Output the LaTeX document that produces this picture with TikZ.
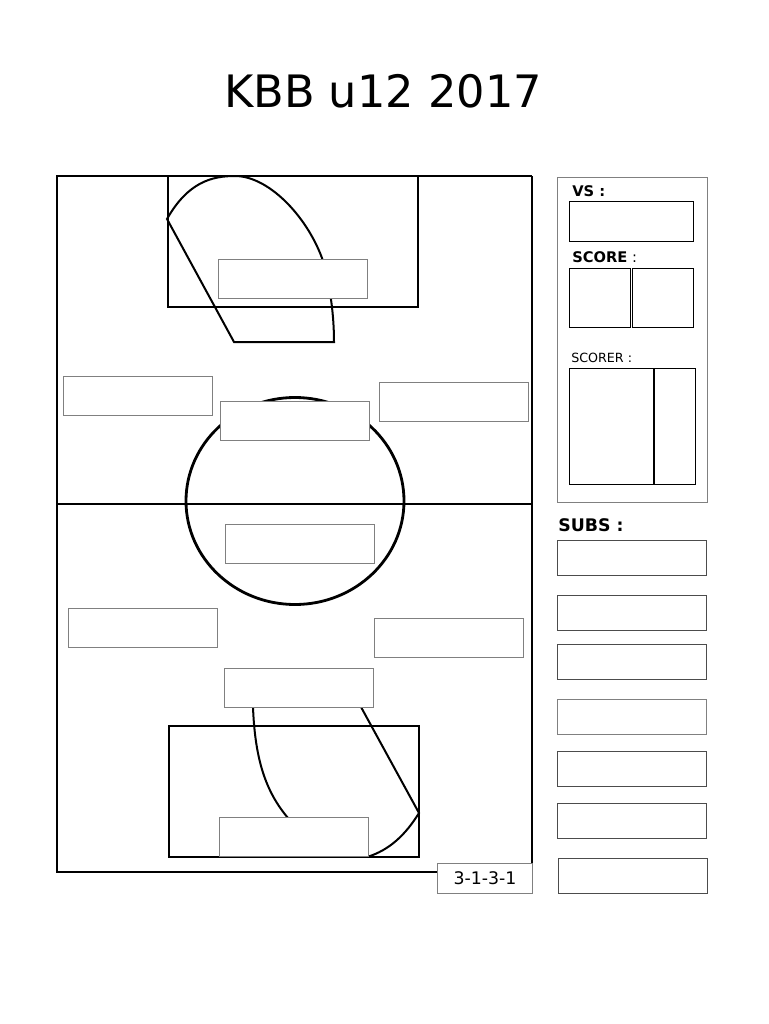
\documentclass[tikz,border=0pt]{standalone}
\usepackage{fontspec}
\setmainfont{DejaVu Sans}
\usetikzlibrary{positioning}

\begin{document}
\begin{tikzpicture}
[x=0.75pt,y=-0.75pt,
  line/.style = {line width=2.1pt},
  curve/.style = {line width=1.5pt},
  slot/.style = {rectangle,draw=gray,fill=white,line width=0.8pt,inner sep=0pt,
        minimum width=111.75pt,minimum height=29.25pt,anchor=north west},
  sub/.style = {rectangle,draw=black!70,fill=white,line width=0.8pt,inner sep=0pt,
        minimum width=111.75pt,minimum height=26.25pt,anchor=north west},
  box/.style = {rectangle,draw,line width=0.8pt,inner sep=0pt,anchor=north west},
  lbl/.style = {inner sep=0pt,anchor=base west}]
\useasboundingbox (0,0) rectangle (768,1024);

\node (title) at (383,91) {\fontsize{33.5pt}{36pt}\selectfont KBB u12 2017};

% pitch
\coordinate (tl) at (57,176);
\coordinate (tr) at (532,176);
\coordinate (bl) at (57,872);
\coordinate (br) at (532,872);
\draw[line] (tr) -- (tl) -- (bl) -- (br) -- (tr);
\coordinate (hl) at (57,504);
\coordinate (hr) at (532,504);
\draw[line] (hl) -- (hr);
\draw[line] (295,501) ellipse [x radius=109,y radius=103.5];
% penalty boxes
\draw[line] (168,176) -- (168,307) -- (418,307) -- (418,176);
\draw[line] (169,726) rectangle (419,857);

% runs
\draw[curve] (167,219) .. controls (188,182) and (212,176) .. (235,176)
   .. controls (268,176) and (306,215) .. (322,258)
   .. controls (331,288) and (334,318) .. (334,342) -- (234,342) -- cycle;
\draw[curve] (253,707) .. controls (255,760) and (266,792) .. (288,818);
\draw[curve] (361,707) -- (419,813) .. controls (406,834) and (390,850) .. (367,857);

% players
\node[slot] (gk) at (218,259) {};
\node[slot] (lb) at (63,376) {};
\node[slot] (cb) at (220,401) {};
\node[slot] (rb) at (379,382) {};
\node[slot] (cm) at (225,524) {};
\node[slot] (lm) at (68,608) {};
\node[slot] (rm) at (374,618) {};
\node[slot] (am) at (224,668) {};
\node[slot] (st) at (219,817) {};

\node[box,draw=gray,fill=white,minimum width=71.25pt,minimum height=22.5pt] (form) at (437,863) {};
\node at (form.center) {\fontsize{13pt}{15pt}\selectfont 3-1-3-1};

% match panel
\node[box,draw=gray,minimum width=112.5pt,minimum height=243.75pt] (panel) at (557,177) {};
\node[lbl] (vs) at (572,196) {\fontsize{11pt}{13pt}\selectfont\bfseries VS :};
\node[box,minimum width=93pt,minimum height=30pt] (vsbox) at (569,201) {};
\node[lbl] (score) at (572,262) {\fontsize{11pt}{13pt}\selectfont\textbf{SCORE} :};
\node[box,minimum width=45.75pt,minimum height=44.25pt] (home) at (569,268) {};
\node[box,minimum width=45.75pt,minimum height=44.25pt] (away) at (632,268) {};
\node[lbl] (scorer) at (571,362) {\fontsize{9.5pt}{11pt}\selectfont SCORER :};
\node[box,minimum width=94.5pt,minimum height=87pt] (scorers) at (569,368) {};
\coordinate (divtop) at (654,368);
\coordinate (divbot) at (654,484);
\draw[line width=0.8pt] (divtop) -- (divbot);

% subs
\node[lbl] (subs) at (558,531) {\fontsize{13pt}{15pt}\selectfont\bfseries SUBS :};
\node[sub] (s1) at (557,540) {};
\node[sub] (s2) at (557,595) {};
\node[sub] (s3) at (557,644) {};
\node[sub,draw=gray] (s4) at (557,699) {};
\node[sub] (s5) at (557,751) {};
\node[sub] (s6) at (557,803) {};
\node[sub] (s7) at (558,858) {};
\end{tikzpicture}
\end{document}
